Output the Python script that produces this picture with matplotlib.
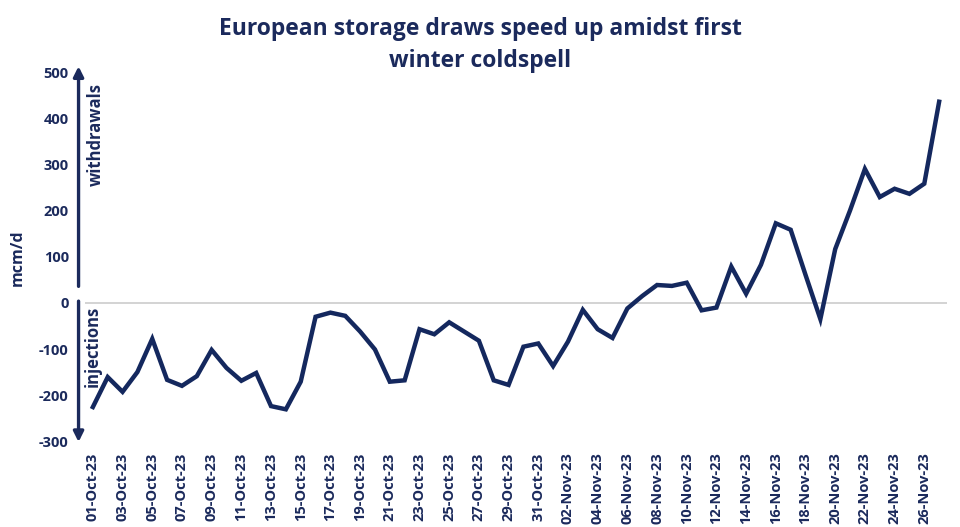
"""European storage net withdrawals, Oct-Nov 2023 (mcm/d)."""

import matplotlib

matplotlib.use("Agg")
import matplotlib.pyplot as plt  # noqa: E402
import pandas as pd  # noqa: E402

NAVY = "#1b2a5c"
LINE = "#14285e"

# daily net flow, positive = withdrawals, negative = injections
dates = pd.date_range("2023-10-01", "2023-11-27", freq="D")
values = [
    -226, -161, -193, -150, -78, -167, -180, -159, -102, -141,
    -169, -152, -224, -231, -171, -30, -21, -28, -62, -101,
    -171, -168, -57, -68, -42, -62, -82, -168, -178, -95,
    -88, -137, -84, -15, -57, -76, -12, 15, 39, 37,
    44, -16, -10, 79, 20, 83, 173, 159, 61, -35,
    117, 201, 291, 230, 248, 237, 259, 437,
]
y_ticks = [-300, -200, -100, 0, 100, 200, 300, 400, 500]

plt.rcParams["font.family"] = ["Open Sans", "DejaVu Sans"]

fig = plt.figure(figsize=(9.6, 5.27), dpi=100)
ax = fig.add_axes([0.089, 0.163, 0.897, 0.699])

x = range(len(values))
ax.axhline(0, color="#d0d0d0", lw=1.3, zorder=1)
ax.plot(x, values, color=LINE, lw=3.2, solid_joinstyle="miter", zorder=3)

ax.set_xlim(-0.5, len(values) - 0.5)
ax.set_ylim(-300, 500)
ax.set_yticks(y_ticks)
ax.set_yticklabels([str(v) for v in y_ticks], fontsize=10.5, fontweight="bold", color=NAVY)
ax.set_xticks(list(x)[::2])
ax.set_xticklabels(
    [d.strftime("%d-%b-%y") for d in dates[::2]],
    rotation=90, fontsize=10.5, fontweight="bold", color=NAVY,
)
ax.tick_params(length=0, pad=12, axis="y")
ax.tick_params(length=0, pad=8, axis="x")
for s in ax.spines.values():
    s.set_visible(False)

# split y-axis arrows: up for withdrawals, down for injections
ax_x = -0.008
trans = ax.get_yaxis_transform()
arrow = dict(arrowstyle="-|>,head_width=0.3,head_length=0.6", color=NAVY, lw=2.4)
ax.annotate("", xy=(ax_x, 520), xytext=(ax_x, 30), xycoords=trans, textcoords=trans,
            arrowprops=arrow, annotation_clip=False)
ax.annotate("", xy=(ax_x, -308), xytext=(ax_x, 10), xycoords=trans, textcoords=trans,
            arrowprops=arrow, annotation_clip=False)
ax.text(0.012, 365, "withdrawals", transform=trans, rotation=90, ha="center", va="center",
        fontsize=12, fontweight="bold", color=NAVY)
ax.text(0.009, -95, "injections", transform=trans, rotation=90, ha="center", va="center",
        fontsize=12, fontweight="bold", color=NAVY)

fig.text(0.019, 0.51, "mcm/d", rotation=90, ha="center", va="center",
         fontsize=11.5, fontweight="bold", color=NAVY)
fig.text(0.5, 0.968, "European storage draws speed up amidst first\nwinter coldspell",
         ha="center", va="top", fontsize=16.5, fontweight="bold", color=NAVY,
         linespacing=1.45)

fig.savefig("out.png", dpi=100)
